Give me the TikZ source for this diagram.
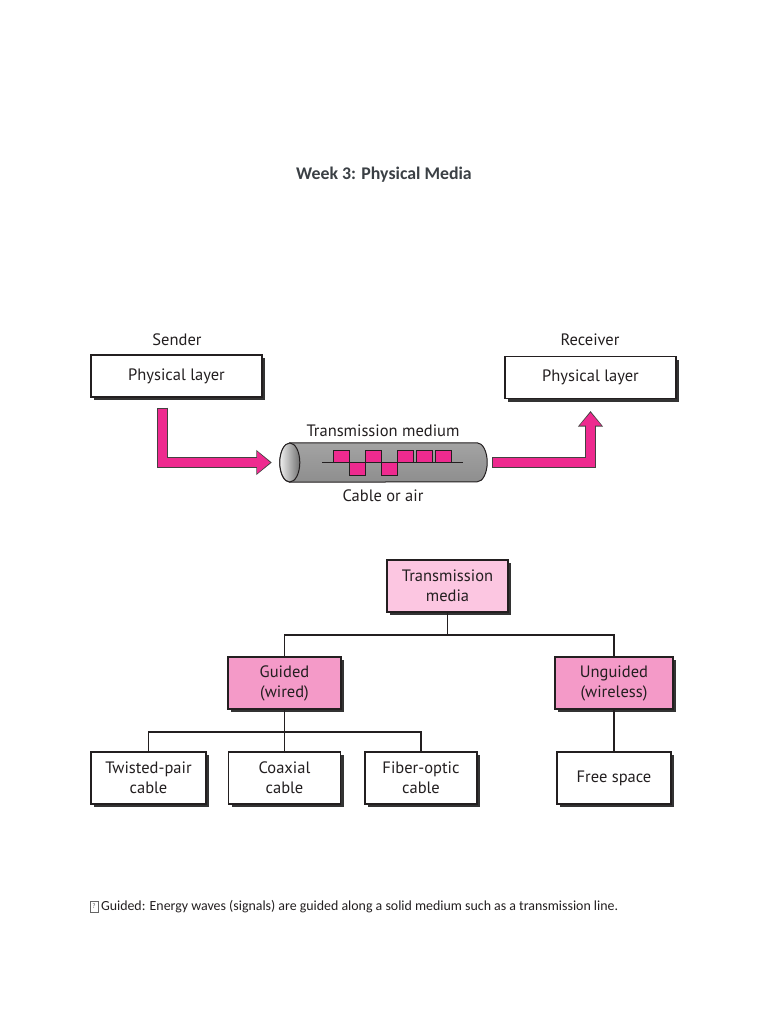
\documentclass[tikz,border=0pt]{standalone}
\usepackage{fontspec}
\setmainfont{Carlito}
\newfontfamily\diagfont{PT Sans}
\usepackage{tikz}
\usetikzlibrary{arrows.meta,positioning,calc,shadows}
\usepackage{xcolor}
\definecolor{titlegray}{HTML}{3B4045}
\definecolor{inkblack}{HTML}{231F20}
\definecolor{signalpink}{HTML}{EE2A8F}
\definecolor{guidedpink}{HTML}{F49AC8}
\definecolor{mediapink}{HTML}{FCC6E1}
\definecolor{cylgray}{HTML}{A3A3A3}
\definecolor{cyllight}{HTML}{EFEFEF}
\definecolor{cyldark}{HTML}{8E8E8E}

\begin{document}
\begin{tikzpicture}[
  x=1pt, y=-1pt,
  font=\diagfont\fontsize{16.5}{20}\selectfont,
  text=inkblack,
  layerbox/.style={
    draw=inkblack,
    fill=white,
    line width=1.1pt,
    minimum width=171,
    minimum height=42,
    inner sep=2pt,
    drop shadow={shadow xshift=3pt, shadow yshift=-3pt, fill=black!80, opacity=1}
  },
  mediabox/.style={
    draw=inkblack,
    fill=#1,
    line width=1.1pt,
    minimum height=52,
    inner sep=2pt,
    align=center,
    drop shadow={shadow xshift=3pt, shadow yshift=-3pt, fill=black!80, opacity=1}
  },
  mediabox/.default=white,
  flowrim/.style={
    draw=inkblack!85,
    line width=10.8pt,
    line join=miter,
    shorten <=-0.9pt,
    -{Triangle[width=24pt, length=15.5pt]}
  },
  flow/.style={
    draw=signalpink,
    line width=9pt,
    line join=miter,
    shorten >=1.6pt,
    -{Triangle[width=21pt, length=13pt]}
  },
  branch/.style={draw=inkblack, line width=1.9pt}
]
  \fill[white] (0,0) rectangle (768,1024);
  \useasboundingbox (0,0) rectangle (768,1024);

  % --- TITLE ---
  \node[font=\rmfamily\bfseries\fontsize{17.8}{21}\selectfont, text=titlegray] (title) at (384,175) {Week 3: Physical Media};

  % --- TOP REGION: SENDER / MEDIUM / RECEIVER ---
  \node[layerbox] (sender) at (176.5,376) {Physical layer};
  \node (senderlabel) at (177,340) {Sender};

  \node[layerbox] (receiver) at (590.5,377.5) {Physical layer};
  \node (receiverlabel) at (590,340) {Receiver};

  \node[minimum width=207, minimum height=39, inner sep=0] (medium) at (383.5,462.5) {};
  \node (mediumlabel) at (383,431) {Transmission medium};
  \node (airlabel) at (383,496) {Cable or air};

  % cylinder body and end face
  \shade[top color=cylgray, middle color=cyllight, bottom color=cyldark, draw=inkblack, line width=1pt]
    ($(medium.north west)+(10,0)$) -- ($(medium.north east)+(-10,0)$)
    arc[start angle=-90, end angle=90, x radius=10, y radius=19.5]
    -- ($(medium.south west)+(10,0)$)
    arc[start angle=90, end angle=270, x radius=10, y radius=19.5] -- cycle;
  \shade[left color=cyllight, right color=cyldark!80!black, draw=inkblack, line width=1pt]
    ($(medium.west)+(10,0)$) ellipse[x radius=10, y radius=19.5];

  % signal on the medium
  \draw[inkblack, line width=1.2pt] (322,462.7) -- (463,462.7);
  \foreach \x/\s in {333.5/-1, 349.5/1, 365.5/-1, 381.5/1, 397.5/-1, 416.5/-1, 435.5/-1}
    \filldraw[fill=signalpink, draw=inkblack, line width=1pt] (\x,462.7) rectangle ++(15.5,12.3*\s);

  % pink flow arrows
  \coordinate (sendout) at ($(sender.south)+(-14,11)$);
  \coordinate (mediumin) at ($(medium.west)+(-8,0)$);
  \coordinate (mediumout) at ($(medium.east)+(6,0)$);
  \coordinate (receivein) at ($(receiver.south)+(0,12)$);
  \draw[flowrim] (sendout) |- (mediumin);
  \draw[flow] (sendout) |- (mediumin);
  \draw[flowrim] (mediumout) -| (receivein);
  \draw[flow] (mediumout) -| (receivein);

  % --- BOTTOM REGION: TAXONOMY TREE ---
  \node[mediabox=mediapink, minimum width=121] (tmedia) at (447.5,586) {Transmission\\media};

  \node[mediabox=guidedpink, minimum width=113] (guided) at (284.5,683) {Guided\\(wired)};
  \node[mediabox=guidedpink, minimum width=118] (unguided) at (614,683) {Unguided\\(wireless)};

  \node[mediabox, minimum width=115] (twisted) at (148.5,778) {Twisted-pair\\cable};
  \node[mediabox, minimum width=112] (coaxial) at (284.5,778) {Coaxial\\cable};
  \node[mediabox, minimum width=112] (fiber) at (421,778) {Fiber-optic\\cable};
  \node[mediabox, minimum width=114] (freespace) at (614,778) {Free space};

  \coordinate (topsplit) at ($(tmedia.south)+(0,22)$);
  \coordinate (guidedsplit) at ($(guided.south)+(0,22)$);

  \draw[branch] (tmedia.south) -- (topsplit) -| (guided.north);
  \draw[branch] (topsplit) -| (unguided.north);
  \draw[branch] (guided.south) -- (coaxial.north);
  \draw[branch] (guidedsplit) -| (twisted.north);
  \draw[branch] (guidedsplit) -| (fiber.north);
  \draw[branch] (unguided.south) -- (freespace.north);

  % --- FOOTNOTE ---
  \node[draw=black!60, line width=0.6pt, inner sep=0, minimum width=8, minimum height=11, font=\rmfamily\fontsize{7}{7}\selectfont, text=black!65] (glyph) at (94,906.5) {?};
  \node[right=2.5pt of glyph, inner sep=0, font=\rmfamily\fontsize{13.9}{16}\selectfont, text=inkblack] (guidednote) {Guided: Energy waves (signals) are guided along a solid medium such as a transmission line.};

\end{tikzpicture}
\end{document}
